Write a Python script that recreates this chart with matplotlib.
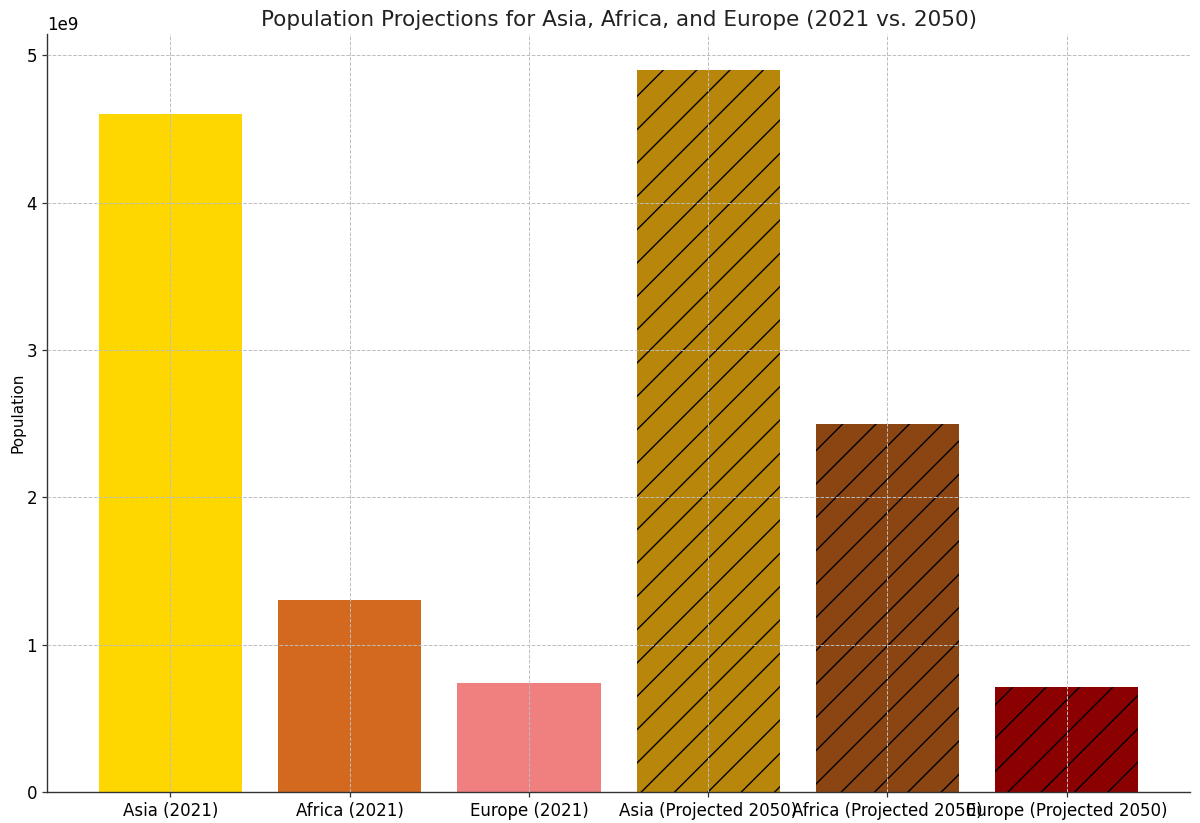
import matplotlib
matplotlib.use("Agg")
import matplotlib.pyplot as plt

# data
regions = [
    "Asia (2021)",
    "Africa (2021)",
    "Europe (2021)",
    "Asia (Projected 2050)",
    "Africa (Projected 2050)",
    "Europe (Projected 2050)",
]
population = [4.60e9, 1.30e9, 0.74e9, 4.90e9, 2.50e9, 0.71e9]
bar_colors = ["gold", "chocolate", "lightcoral", "darkgoldenrod", "saddlebrown", "darkred"]
hatches = ["", "", "", "/", "/", "/"]

plt.rcParams.update({
    "font.family": "DejaVu Sans",
    "font.size": 12,
    "axes.linewidth": 1.0,
    "axes.edgecolor": "#333333",
    "xtick.major.size": 3.5,
    "ytick.major.size": 3.5,
    "xtick.major.width": 0.9,
    "ytick.major.width": 0.9,
    "xtick.color": "#333333",
    "ytick.color": "#333333",
    "xtick.labelcolor": "black",
    "ytick.labelcolor": "black",
    "hatch.linewidth": 1.0,
    "hatch.color": "black",
})

fig = plt.figure(figsize=(12, 8.23), dpi=100)
ax = fig.add_axes([0.039, 0.0377, 0.953, 0.921])

bars = ax.bar(regions, population, color=bar_colors, width=0.8)
for bar, h in zip(bars, hatches):
    bar.set_hatch(h)

# grid drawn over the bars, as in the reference
ax.set_axisbelow(False)
ax.grid(True, linestyle="--", linewidth=0.7, color="#bdbdbd")
for side in ("top", "right"):
    ax.spines[side].set_visible(False)

ax.tick_params(axis="both", labelsize=12)
ax.yaxis.get_offset_text().set_fontsize(12)
ax.set_ylabel("Population", fontsize=11, labelpad=0.5)
ax.set_title("Population Projections for Asia, Africa, and Europe (2021 vs. 2050)",
             fontsize=15.5, pad=6, color="#222222")

fig.savefig("out.png", dpi=100)
